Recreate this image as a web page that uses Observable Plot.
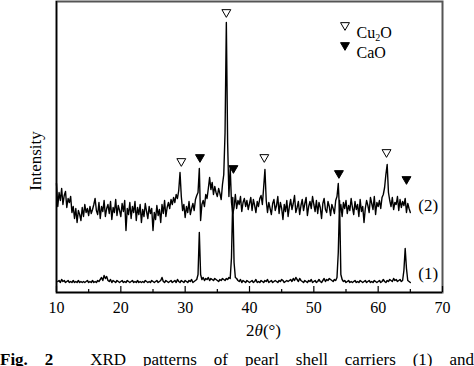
<!DOCTYPE html>
<html><head><meta charset="utf-8">
<script src="https://cdn.jsdelivr.net/npm/d3@7"></script>
<script src="https://cdn.jsdelivr.net/npm/@observablehq/plot@0.6"></script>
<style>
html,body{margin:0;padding:0;background:#fff;height:366px;overflow:hidden;font-family:"Liberation Serif","Tinos","DejaVu Serif","Times New Roman",serif;}
#chart svg{display:block}
#chart svg, #chart svg text{font-family:"Liberation Serif","Tinos","DejaVu Serif","Times New Roman",serif !important;}
#caption{display:flex;justify-content:space-between;width:474px;font-size:17px;line-height:17px;margin-top:6px;white-space:nowrap;color:#000}
#caption .b{font-weight:bold}
</style></head><body>
<div id="chart"></div>
<div id="caption"></div>
<script>
// 2θ grids
const start2 = 10.0, start1 = 10.2, step = 0.2;
// pattern (2): 10.0 .. 65.0, intensity (a.u.)
const pattern2 = [
109,86,100,92,104,88,97,101,85,94,
90,96,80,86,74,84,70,82,78,72,
85,76,88,80,84,77,86,79,83,88,
94,82,78,90,74,86,81,92,76,84,
88,79,91,73,85,80,93,77,87,82,
76,89,81,92,62,84,78,90,74,86,
80,91,72,85,78,88,70,83,76,89,
81,74,86,79,84,62,80,73,87,77,
83,70,88,79,92,76,85,90,84,93,
88,95,90,98,94,102,120,96,82,88,
75,86,80,91,78,84,89,82,93,97,
100,124,72,88,92,86,98,94,104,115,
103,110,98,106,100,96,104,99,93,108,
118,160,270,150,96,125,90,79,85,98,
84,92,88,96,81,90,94,86,92,83,
89,95,82,93,87,80,91,86,94,97,
88,105,123,92,80,90,84,78,89,93,
82,87,96,79,90,84,73,88,81,92,
76,86,93,83,89,97,80,85,91,78,
87,93,82,89,95,77,86,91,84,96,
88,81,92,79,90,85,74,89,94,83,
80,91,86,77,88,84,79,92,96,109,
80,88,76,90,84,92,79,87,82,94,
85,78,91,83,88,76,93,81,86,70,
84,92,87,80,95,89,83,96,78,90,
86,92,84,95,98,105,118,128,100,92,
86,95,83,90,88,96,82,93,85,91,
87,94,80,89,84,80
];
// pattern (1): 10.2 .. 65.0
const pattern1 = [
11,12,10,13,11,12,10,11,12,10,
11,10,12,10,11,10,12,10,11,10,
11,10,11,12,10,11,10,12,10,11,
10,12,11,13,15,12,17,14,16,12,
11,13,10,12,11,10,12,11,10,11,
12,10,11,10,12,11,10,11,12,10,
11,10,12,10,11,10,11,10,12,11,
10,11,10,12,11,10,11,12,10,11,
12,15,11,10,12,11,10,11,12,10,
11,12,10,13,11,10,12,11,10,12,
11,10,12,11,13,10,11,12,13,18,
60,18,13,15,12,14,13,15,12,14,
13,12,14,13,12,11,13,12,14,13,
12,14,13,15,14,35,95,30,15,14,
12,11,13,10,12,11,10,12,11,10,
11,12,10,11,13,10,11,10,12,11,
10,12,11,13,10,11,12,10,11,12,
11,10,12,11,13,12,10,11,12,11,
12,13,11,14,12,15,13,11,14,12,
11,10,12,11,10,12,11,13,10,11,
12,10,11,13,11,10,12,14,11,13,
12,14,13,12,11,13,12,15,40,92,
18,13,11,12,10,11,12,10,11,10,
11,12,10,11,10,12,11,10,11,12,
10,11,12,10,11,10,12,11,10,11,
12,10,11,13,11,10,12,11,13,12,
11,14,12,13,11,12,13,11,12,22,
44,24,12,11,10
];
// peak markers
const cu2oPeaks = [29.4, 36.4, 42.3, 61.3];
const cu2oMarks = [130, 279, 134, 139];
const caoPeaks = [32.3, 37.5, 53.9, 64.4];
const caoMarks = [134, 123, 118, 112];
const seriesLabels = ["(2)", "(1)"];
const legendLabels = ["Cu2O", "CaO"];
const xTicks = [10, 20, 30, 40, 50, 60, 70];
const xMinorTicks = [15, 25, 35, 45, 55, 65];
const xLabel = "2θ(°)";
const yLabel = "Intensity";
const captionWords = ["Fig.", "2", "XRD", "patterns", "of", "pearl", "shell", "carriers", "(1)", "and"];

const data2 = pattern2.map((v, i) => ({x: start2 + i * step, y: v}));
const data1 = pattern1.map((v, i) => ({x: start1 + i * step, y: v}));
const cu2o = cu2oPeaks.map((x, i) => ({x, y: cu2oMarks[i]}));
const cao = caoPeaks.map((x, i) => ({x, y: caoMarks[i]}));

const triDown = {draw(ctx, size) {
  const y = Math.sqrt(size / (3 * Math.sqrt(3)));
  const h = 1.5 * y, w = Math.sqrt(3) * y;
  ctx.moveTo(0, h); ctx.lineTo(w, -h); ctx.lineTo(-w, -h); ctx.closePath();
}};

const font = '"Liberation Serif", "Tinos", "DejaVu Serif", "Times New Roman", serif';
const plot = Plot.plot({
  width: 474, height: 345,
  marginLeft: 56, marginRight: 32, marginTop: 1, marginBottom: 53,
  x: {domain: [10, 70]},
  y: {domain: [0, 291], axis: null},
  style: {fontFamily: font, background: "#fff", color: "#000"},
  marks: [
    Plot.frame({stroke: "#555", strokeWidth: 2}),
    Plot.line(data1, {x: "x", y: "y", stroke: "#000", strokeWidth: 1.4}),
    Plot.line(data2, {x: "x", y: "y", stroke: "#000", strokeWidth: 1.4}),
    Plot.ruleX([10], {stroke: "#000", strokeWidth: 1.4}),
    Plot.ruleY([0], {stroke: "#000", strokeWidth: 1.6}),
    Plot.ruleX(xTicks, {stroke: "#000", strokeWidth: 1.2, insetTop: 285}),
    Plot.ruleX(xMinorTicks, {stroke: "#000", strokeWidth: 1.2, insetTop: 288}),
    Plot.axisX({ticks: xTicks, tickSize: 0, tickPadding: 9, fontSize: 16, label: null}),
    Plot.text([xLabel], {frameAnchor: "bottom", dx: 14, dy: 38, fontSize: 17, lineAnchor: "middle"}),
    Plot.text([yLabel], {frameAnchor: "left", textAnchor: "middle", dx: -21, dy: 14, rotate: -90, fontSize: 17}),
    Plot.dot(cu2o, {x: "x", y: "y", symbol: triDown, r: 3.3, fill: "#fff", stroke: "#000", strokeWidth: 1}),
    Plot.dot(cao, {x: "x", y: "y", symbol: triDown, r: 3.3, fill: "#000", stroke: "#000", strokeWidth: 1}),
    Plot.text([seriesLabels[0]], {x: () => data2[data2.length - 1].x, y: () => data2[data2.length - 1].y, dx: 8, dy: -7, textAnchor: "start", fontSize: 17}),
    Plot.text([seriesLabels[1]], {x: () => data1[data1.length - 1].x, y: () => data1[data1.length - 1].y, dx: 8, dy: -9, textAnchor: "start", fontSize: 17}),
    Plot.dot([legendLabels[0]], {frameAnchor: "top-left", dx: 288.5, dy: 25, symbol: triDown, r: 3.3, fill: "#fff", stroke: "#000", strokeWidth: 1}),
    Plot.dot([legendLabels[1]], {frameAnchor: "top-left", dx: 288.5, dy: 45, symbol: triDown, r: 3.3, fill: "#000", stroke: "#000", strokeWidth: 1}),
    Plot.text([legendLabels[0]], {frameAnchor: "top-left", dx: 300, dy: 25, textAnchor: "start", fontSize: 16}),
    Plot.text([legendLabels[1]], {frameAnchor: "top-left", dx: 300, dy: 45, textAnchor: "start", fontSize: 16})
  ]
});

d3.select(plot).selectAll("text").each(function() {
  const t = this.textContent;
  if (t === "Cu2O") this.innerHTML = 'Cu<tspan dy="3" font-size="10">2</tspan><tspan dy="-3">O</tspan>';
  else if (t === xLabel) this.innerHTML = '2<tspan font-style="italic">θ</tspan>(°)';
});

document.getElementById("chart").appendChild(plot);
const cap = d3.select("#caption");
captionWords.forEach((w, i) => {
  const s = cap.append("span").text(w);
  if (i < 2) s.attr("class", "b");
  if (i === 1) s.style("margin-right", "20px");
});
</script>
</body></html>
